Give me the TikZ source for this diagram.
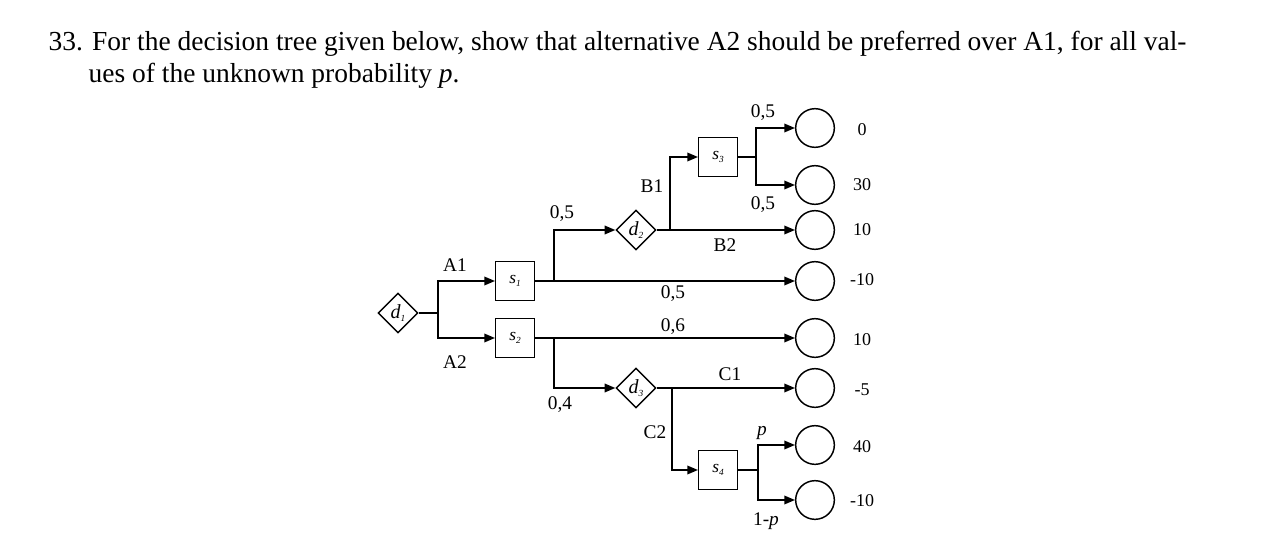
\documentclass[tikz,border=0pt]{standalone}
\usepackage{fontspec}
\setmainfont{Liberation Serif}
\usetikzlibrary{shapes.geometric,arrows.meta}
\begin{document}
\begin{tikzpicture}[x=0.75pt,y=-0.75pt,line width=1.1pt,
  dec/.style={draw,diamond,minimum width=30pt,minimum height=30pt,inner sep=0pt,font=\fontsize{15}{15}\selectfont\itshape},
  chance/.style={draw,minimum width=29pt,minimum height=29pt,inner sep=0pt,font=\fontsize{13}{13}\selectfont\itshape},
  term/.style={draw,circle,minimum size=29pt,inner sep=0pt},
  arr/.style={-{Triangle[length=8pt,width=6.5pt]}},
  lab/.style={font=\fontsize{14.5}{14.5}\selectfont,inner sep=0pt},
  val/.style={font=\fontsize{13.5}{13.5}\selectfont,inner sep=0pt}]
\useasboundingbox (0,0) rectangle (1261,543);
\node[anchor=base west,inner sep=0pt,font=\fontsize{20.6}{20.6}\selectfont] (t1) at (48,50) {33. For the decision tree given below, show that alternative A2 should be preferred over A1, for all val-};
\node[anchor=base west,inner sep=0pt,font=\fontsize{20.6}{20.6}\selectfont] (t2) at (88,82) {ues of the unknown probability \textit{p}.};
\node[dec] (d1) at (398,313) {d\raisebox{-0.4ex}{\scriptsize 1}};
\node[chance] (s1) at (515,281) {s\raisebox{-0.4ex}{\scriptsize 1}};
\node[chance] (s2) at (515,338) {s\raisebox{-0.4ex}{\scriptsize 2}};
\node[dec] (d2) at (636,230) {d\raisebox{-0.4ex}{\scriptsize 2}};
\node[dec] (d3) at (636,388) {d\raisebox{-0.4ex}{\scriptsize 3}};
\node[chance] (s3) at (718,157) {s\raisebox{-0.4ex}{\scriptsize 3}};
\node[chance] (s4) at (718,470) {s\raisebox{-0.4ex}{\scriptsize 4}};
\foreach \n/\y in {c1/128,c2/185,c3/230,c4/281,c5/338,c6/388,c7/445,c8/500}
  \node[term] (\n) at (815,\y) {};
\coordinate (j1) at (438,313);
\coordinate (j2) at (554,281);
\coordinate (j3) at (554,338);
\coordinate (j4) at (670,230);
\coordinate (j5) at (672,388);
\coordinate (j6) at (756,157);
\coordinate (j7) at (758,470);
\draw (d1.east) -- (j1);
\draw[arr] (j1) |- (s1.west);
\draw[arr] (j1) |- (s2.west);
\draw[arr] (s1.east) -- (c4.west);
\draw[arr] (j2) |- (d2.west);
\draw[arr] (s2.east) -- (c5.west);
\draw[arr] (j3) |- (d3.west);
\draw[arr] (d2.east) -- (c3.west);
\draw[arr] (j4) |- (s3.west);
\draw[arr] (d3.east) -- (c6.west);
\draw[arr] (j5) |- (s4.west);
\draw (s3.east) -- (j6);
\draw[arr] (j6) |- (c1.west);
\draw[arr] (j6) |- (c2.west);
\draw (s4.east) -- (j7);
\draw[arr] (j7) |- (c7.west);
\draw[arr] (j7) |- (c8.west);
\foreach \n/\y/\v in {c1/130/0,c2/185/30,c3/230/10,c4/280/-10,c5/340/10,c6/390/-5,c7/447/40,c8/501/-10}
  \node[val] (v\n) at (862,\y) {\v};
\node[lab] (lA1) at (455,265) {A1};
\node[lab] (lA2) at (455,362) {A2};
\node[lab] (lp1) at (562,214) {0,5};
\node[lab] (lp2) at (673,294) {0,5};
\node[lab] (lp3) at (673,327) {0,6};
\node[lab] (lp4) at (560,405) {0,4};
\node[lab] (lB1) at (652,186) {B1};
\node[lab] (lB2) at (725,245) {B2};
\node[lab] (lp5) at (763,113) {0,5};
\node[lab] (lp6) at (763,205) {0,5};
\node[lab] (lC1) at (730,374) {C1};
\node[lab] (lC2) at (655,432) {C2};
\node[lab] (lp7) at (762,433) {\textit{p}};
\node[lab] (lp8) at (766,521) {1-\textit{p}};
\end{tikzpicture}
\end{document}
